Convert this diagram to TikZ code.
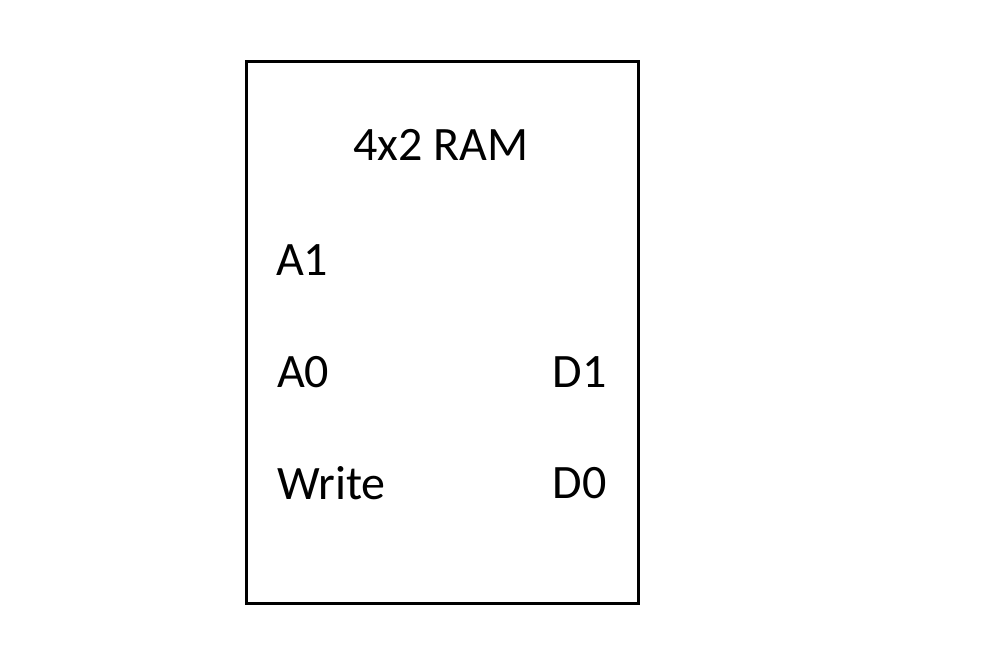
\documentclass[tikz,border=0pt]{standalone}
\usepackage{fontspec}
\setmainfont{Carlito}
\begin{document}
\begin{tikzpicture}[x=1pt,y=-1pt,lbl/.style={inner sep=0pt,font=\fontsize{48}{50}\selectfont}]
\useasboundingbox (0,0) rectangle (1005,671);
\node[draw,line width=3pt,minimum width=392pt,minimum height=541pt,inner sep=0pt] (box) at (442,332.5) {};
\node[lbl] (title) at (441,145) {4x2 RAM};
\node[lbl,anchor=west] (a1) at (276,260) {A1};
\node[lbl,anchor=west] (a0) at (277,372) {A0};
\node[lbl,anchor=west] (w) at (277,483) {Write};
\node[lbl,anchor=east] (d1) at (607,372) {D1};
\node[lbl,anchor=east] (d0) at (607,483) {D0};
\end{tikzpicture}
\end{document}
